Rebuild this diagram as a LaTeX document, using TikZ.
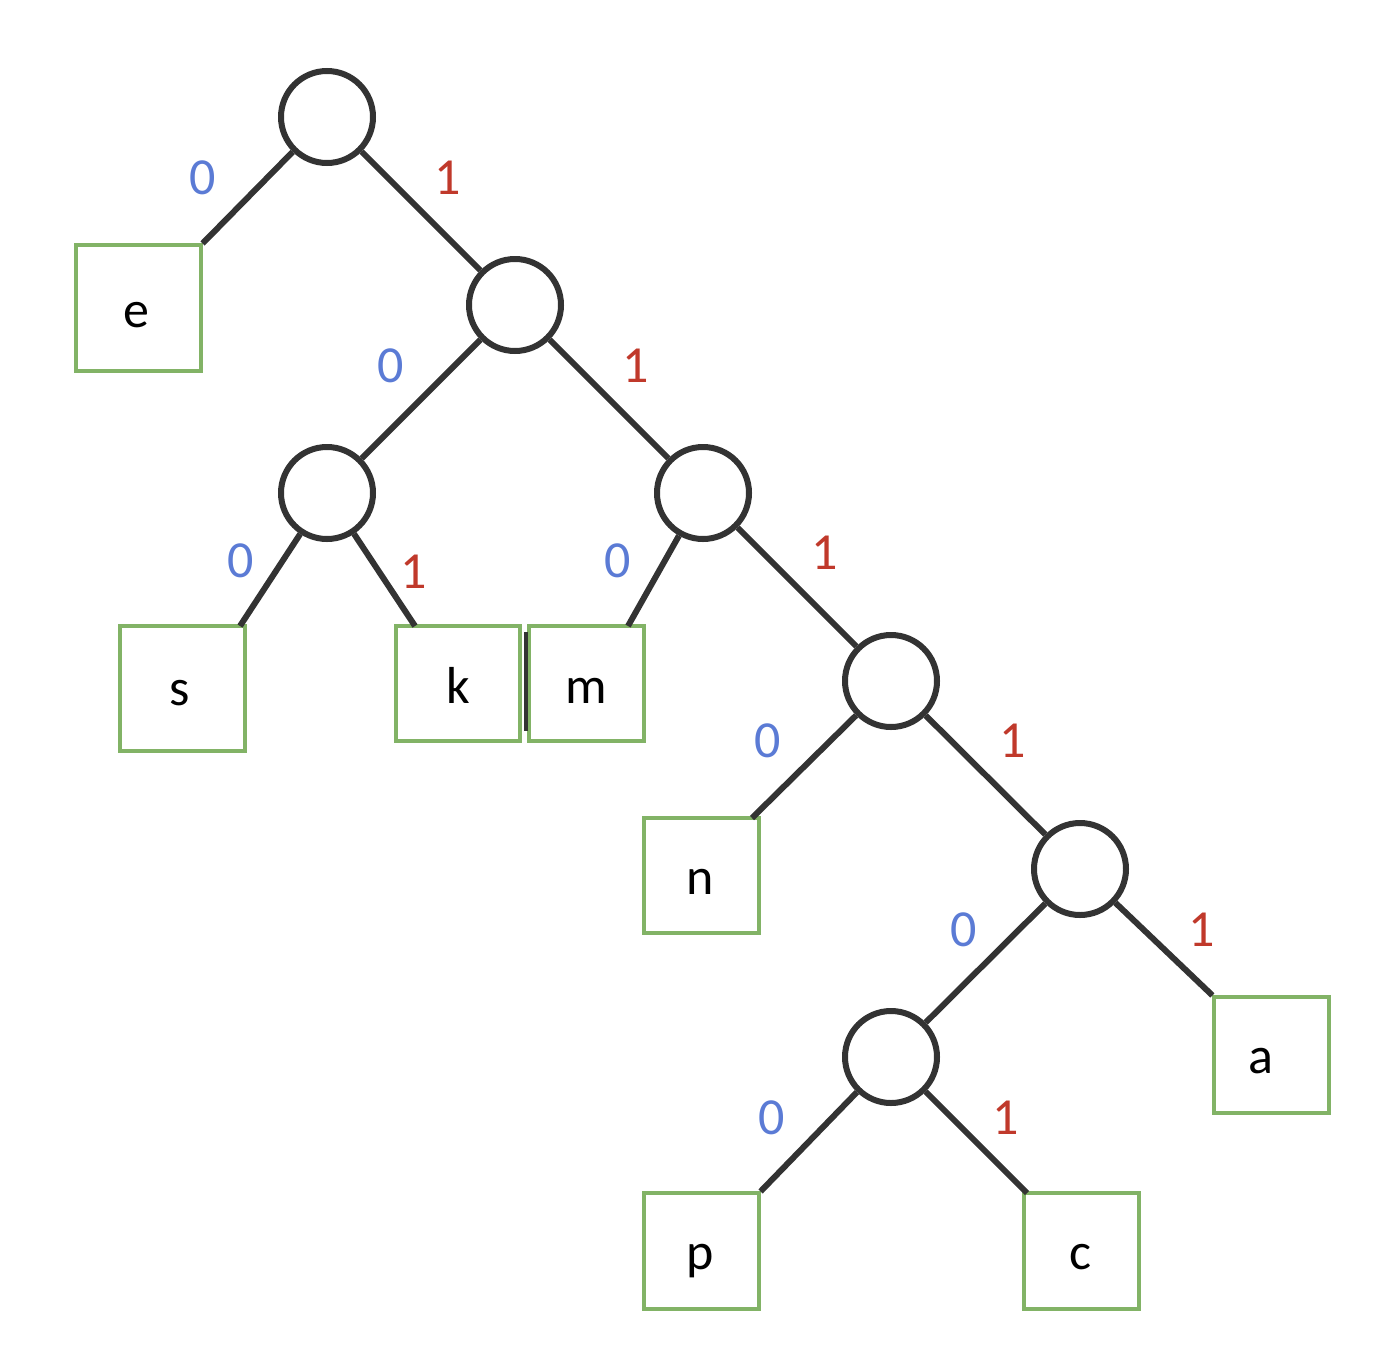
\documentclass[tikz,border=0pt]{standalone}
\usepackage{fontspec}
\setmainfont{Carlito}
\definecolor{edgec}{HTML}{333333}
\definecolor{boxc}{HTML}{82B366}
\definecolor{zeroc}{HTML}{5B7BD5}
\definecolor{onec}{HTML}{C0392B}
\tikzset{
 inner/.style={circle,draw=edgec,line width=6pt,minimum size=92pt,inner sep=0pt},
 leaf/.style={draw=boxc,line width=3.2pt,minimum width=115pt,minimum height=115pt,inner sep=0pt,font=\fontsize{52}{58}\selectfont,text depth=0pt,text height=0pt},
 edge/.style={draw=edgec,line width=6pt},
 zl/.style={text=zeroc,font=\fontsize{52}{58}\selectfont},
 ol/.style={text=onec,font=\fontsize{52}{58}\selectfont}
}
\begin{document}
\begin{tikzpicture}[x=1pt,y=-1pt]
\useasboundingbox (0,0) rectangle (1399,1347);
\node[inner] (r) at (327,117) {};
\node[inner] (b) at (515,305) {};
\node[inner] (c3) at (327,493) {};
\node[inner] (d) at (703,493) {};
\node[inner] (f) at (891,681) {};
\node[inner] (g) at (1080,869) {};
\node[inner] (h) at (891,1057) {};
\node[leaf,minimum width=125pt,minimum height=126pt] (e) at (138.5,308) {};
\node[leaf,minimum width=125pt,minimum height=125pt] (s) at (182.5,688.5) {};
\node[leaf,minimum width=124pt] (k) at (458,683.5) {};
\node[leaf] (m) at (586.5,683.5) {};
\node[leaf] (n) at (701.5,875.5) {};
\node[leaf,minimum height=116pt] (a) at (1271.5,1055) {};
\node[leaf,minimum height=116pt] (p) at (701.5,1251) {};
\node[leaf,minimum height=116pt] (cc) at (1081.5,1251) {};
\tikzset{lt/.style={font=\fontsize{52}{58}\selectfont,anchor=base,inner sep=0pt}}
\node[lt] (te) at (136,327) {e};
\node[lt] (ts) at (180,705) {s};
\node[lt] (tk) at (458,703) {k};
\node[lt] (tm) at (586,703) {m};
\node[lt] (tn) at (700,894) {n};
\node[lt] (ta) at (1261,1073) {a};
\node[lt] (tp) at (700,1269) {p};
\node[lt] (tc) at (1080,1269) {c};
\coordinate (sk) at (240,626);
\coordinate (kk) at (415,626);
\coordinate (mk) at (628,626);
\coordinate (nk) at (752,818);
\coordinate (ck) at (1027,1193);
\draw[edge] (r) -- (e.north east);
\draw[edge] (r) -- (b);
\draw[edge] (b) -- (c3);
\draw[edge] (b) -- (d);
\draw[edge] (c3) -- (sk);
\draw[edge] (c3) -- (kk);
\draw[edge] (d) -- (mk);
\draw[edge] (d) -- (f);
\draw[edge] (f) -- (nk);
\draw[edge] (f) -- (g);
\draw[edge] (g) -- (h);
\draw[edge] (g) -- (a.north west);
\draw[edge] (h) -- (p.north east);
\draw[edge] (h) -- (ck);
\draw[draw=edgec,line width=4pt] (525.5,632) -- (525.5,731);
\node[zl] (l1) at (203,178) {0};
\node[ol] (l2) at (448,178) {1};
\node[zl] (l3) at (391,366) {0};
\node[ol] (l4) at (636,366) {1};
\node[zl] (l5) at (241,561) {0};
\node[ol] (l6) at (414,572) {1};
\node[zl] (l7) at (618,561) {0};
\node[ol] (l8) at (825,553) {1};
\node[zl] (l9) at (768,741) {0};
\node[ol] (l10) at (1013,741) {1};
\node[zl] (l11) at (964,930) {0};
\node[ol] (l12) at (1202,930) {1};
\node[zl] (l13) at (772,1118) {0};
\node[ol] (l14) at (1006,1118) {1};
\end{tikzpicture}
\end{document}
